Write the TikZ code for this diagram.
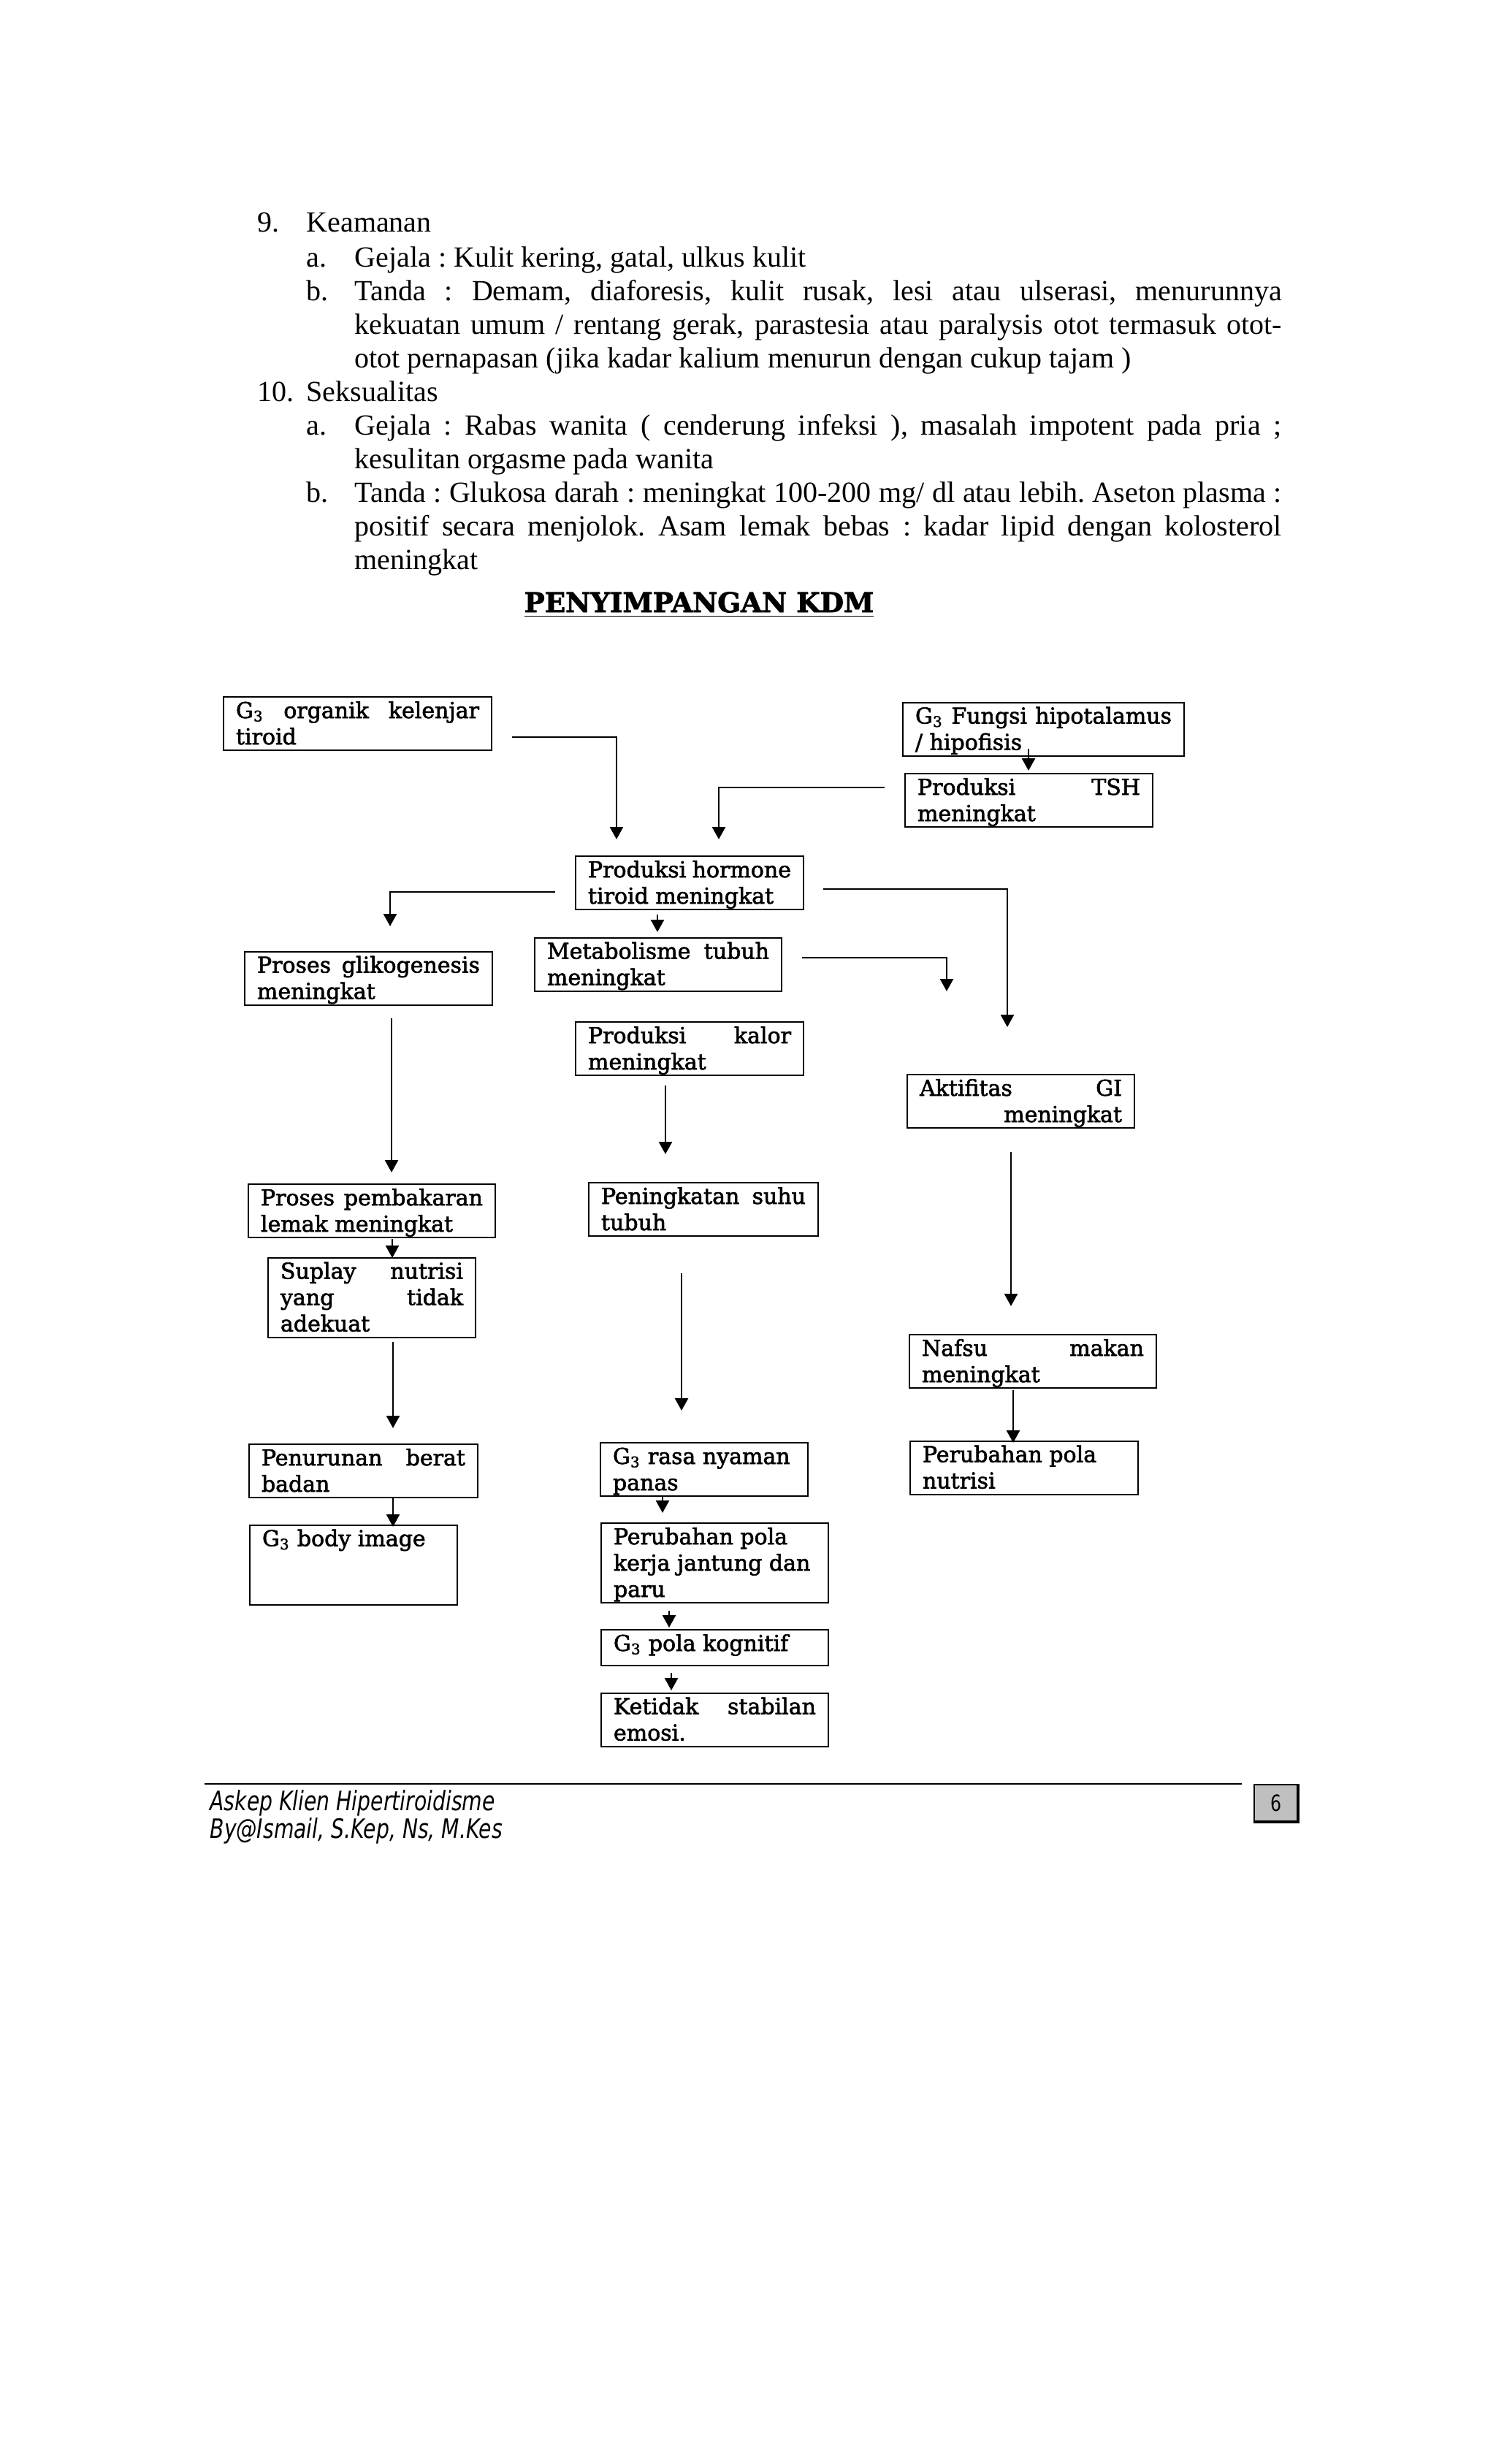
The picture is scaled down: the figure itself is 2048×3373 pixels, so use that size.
\documentclass[tikz,border=0pt]{standalone}
\usepackage{fontspec}
\setmainfont{Liberation Serif}
\newfontfamily\kotakfont[FakeBold=2]{DejaVu Serif}
\newfontfamily\kakifont[FakeStretch=0.77]{DejaVu Sans}
\usetikzlibrary{arrows.meta,positioning}
\frenchspacing
\newcommand\fullline[1]{\leavevmode\hbox to\hsize{\spaceskip=0pt\xspaceskip=0pt #1}}
\tikzstyle{teks} = [inner sep=0pt, anchor=base west, align=left, font=\fontsize{12}{13.86}\selectfont, execute at begin node={\spaceskip=0pt\xspaceskip=0pt}]
\tikzstyle{kotak} = [rectangle, draw, line width=0.6pt, inner xsep=5.1pt, inner ysep=0pt, align=left, text height=8.7pt, text depth=13.2pt, font=\kotakfont\fontsize{9}{10.8}\selectfont, execute at begin node={\spaceskip=0pt\xspaceskip=0pt}]
\tikzstyle{tiga} = [text depth=24pt]
\tikzstyle{line} = [draw, line width=0.8pt, -{Triangle[length=5.1pt,width=5.4pt]}]
\tikzstyle{kaki} = [inner sep=0pt, anchor=base west, font=\kakifont\itshape\fontsize{11}{11.4}\selectfont]

\begin{document}
\begin{tikzpicture}[x=0.3pt, y=-0.3pt]
		\useasboundingbox (0,0) rectangle (2048,3373);
		
		% Teks atas
		\node[teks] (No9) at (352,317.5) {9.};
		\node[teks] (Keamanan) at (419,317.5) {Keamanan};
		\node[teks] (Poin9a) at (419,365) {a.};
		\node[teks] (Gejala9) at (485,365) {Gejala : Kulit kering, gatal, ulkus kulit};
		\node[teks] (Poin9b) at (419,411) {b.};
		\node[teks, text width=380.7pt] (Tanda9) at (485,411) {\fullline{Tanda : Demam, diaforesis, kulit rusak, lesi atau ulserasi, menurunnya}\\ \fullline{kekuatan umum / rentang gerak, parastesia atau paralysis otot termasuk otot-}\\ otot pernapasan (jika kadar kalium menurun dengan cukup tajam )};
		\node[teks] (No10) at (352,549) {10.};
		\node[teks] (Seksualitas) at (419,549) {Seksualitas};
		\node[teks] (Poin10a) at (419,595) {a.};
		\node[teks, text width=380.7pt] (Gejala10) at (485,595) {\fullline{Gejala : Rabas wanita ( cenderung infeksi ), masalah impotent pada pria ;}\\ kesulitan orgasme pada wanita};
		\node[teks] (Poin10b) at (419,687.5) {b.};
		\node[teks, text width=380.7pt] (Tanda10) at (485,687.5) {\fullline{Tanda : Glukosa darah : meningkat 100-200 mg/ dl atau lebih. Aseton plasma :}\\ \fullline{positif secara menjolok. Asam lemak bebas : kadar lipid dengan kolosterol}\\ meningkat};
		\node[inner sep=0pt, anchor=base, font=\kotakfont\bfseries\fontsize{11.2}{13}\selectfont] (Judul) at (957,838) {\underline{PENYIMPANGAN KDM}};
		
		% Baris 1
		\node[kotak, text width=99.9pt] (OrganikTiroid) at (489.5,990.5) {\fullline{G\textsubscript{3} organik kelenjar}\\tiroid};
		\node[kotak, text width=105.3pt] (FungsiHipotalamus) at (1428.5,998) {\fullline{G\textsubscript{3} Fungsi hipotalamus}\\/ hipofisis};
		\node[kotak, text width=91.5pt] (ProduksiTSH) at (1408.5,1095.5) {\fullline{Produksi TSH}\\meningkat};
		\node[kotak, text width=83.4pt] (HormonTiroid) at (944,1208.5) {\fullline{Produksi hormone}\\tiroid meningkat};
		
		% Baris 2
		\node[kotak, text width=91.2pt] (Metabolisme) at (901,1320) {\fullline{Metabolisme tubuh}\\meningkat};
		\node[kotak, text width=91.5pt] (Glikogenesis) at (504.5,1339) {\fullline{Proses glikogenesis}\\meningkat};
		\node[kotak, text width=83.4pt, below of=HormonTiroid, node distance=68.1pt] (ProduksiKalor) {\fullline{Produksi kalor}\\meningkat};
		\node[kotak, text width=83.1pt] (AktifitasGI) at (1397.5,1507.5) {\fullline{Aktifitas GI}\\\fullline{\hfill meningkat}};
		
		% Baris 3
		\node[kotak, text width=91.2pt] (PembakaranLemak) at (509,1657.5) {\fullline{Proses pembakaran}\\lemak meningkat};
		\node[kotak, text width=84pt] (SuhuTubuh) at (963,1655.5) {\fullline{Peningkatan suhu}\\tubuh};
		\node[kotak, tiga, text width=75pt, below of=PembakaranLemak, node distance=35.55pt] (SuplayNutrisi) {\fullline{Suplay nutrisi}\\\fullline{yang tidak}\\adekuat};
		\node[kotak, text width=91.2pt] (NafsuMakan) at (1414,1863.5) {\fullline{Nafsu makan}\\meningkat};
		
		% Baris 4
		\node[kotak, text width=83.4pt] (PolaNutrisi) at (1402,2009) {Perubahan pola\\nutrisi};
		\node[kotak, text width=83.7pt] (BeratBadan) at (497.5,2013.5) {\fullline{Penurunan berat}\\badan};
		\node[kotak, tiga, text width=75pt] (BodyImage) at (484,2142) {G\textsubscript{3} body image};
		\node[kotak, text width=75pt] (RasaNyaman) at (964,2011.5) {G\textsubscript{3} rasa nyaman\\panas};
		\node[kotak, tiga, text width=83.1pt] (KerjaJantung) at (978.5,2139.5) {Perubahan pola\\kerja jantung dan\\paru};
		\node[kotak, text depth=6pt, text width=83.1pt, below of=KerjaJantung, node distance=34.8pt] (PolaKognitif) {G\textsubscript{3} pola kognitif};
		\node[kotak, text width=83.1pt, below of=PolaKognitif, node distance=29.55pt] (Emosi) {\fullline{Ketidak stabilan}\\emosi.};
		
		% Ujung panah
		\coordinate (OrganikKeluar) at (701,1009);
		\coordinate (HormonMasukKiri) at (844,1149);
		\coordinate (TSHKeluar) at (1211,1078);
		\coordinate (HormonMasukKanan) at (984,1149);
		\coordinate (HipofisisKeluar) at (1408,1025);
		\coordinate (TSHMasuk) at (1408,1055);
		\coordinate (HormonKeluarKiri) at (760,1221);
		\coordinate (GlikogenesisMasuk) at (534,1268);
		\coordinate (HormonKeluarBawah) at (900,1252);
		\coordinate (MetabolismeMasuk) at (900,1276);
		\coordinate (HormonKeluarKanan) at (1127,1217);
		\coordinate (AktifitasMasuk) at (1379,1406);
		\coordinate (MetabolismeKeluar) at (1098,1311);
		\coordinate (MetabolismeUjung) at (1296,1357);
		\coordinate (GlikogenesisKeluar) at (536,1394);
		\coordinate (LemakMasuk) at (536,1605);
		\coordinate (KalorKeluar) at (911,1486);
		\coordinate (SuhuMasuk) at (911,1580);
		\coordinate (AktifitasKeluar) at (1384,1577);
		\coordinate (NafsuMasuk) at (1384,1788);
		\coordinate (LemakKeluar) at (537,1696);
		\coordinate (SuplayMasuk) at (537,1722);
		\coordinate (SuplayKeluar) at (538,1837);
		\coordinate (BeratMasuk) at (538,1955);
		\coordinate (SuhuKeluar) at (933,1743);
		\coordinate (NyamanMasuk) at (933,1931);
		\coordinate (NafsuKeluar) at (1387,1903);
		\coordinate (NutrisiMasuk) at (1387,1975);
		\coordinate (BeratKeluar) at (538,2050);
		\coordinate (BodyMasuk) at (538,2090);
		\coordinate (NyamanKeluar) at (907,2048);
		\coordinate (JantungMasuk) at (907,2071);
		\coordinate (JantungKeluar) at (916,2205);
		\coordinate (KognitifMasuk) at (916,2228);
		\coordinate (KognitifKeluar) at (919,2290);
		\coordinate (EmosiMasuk) at (919,2314);
		
		% Paths
		\path [line] (OrganikKeluar) -| (HormonMasukKiri);
		\path [line] (TSHKeluar) -| (HormonMasukKanan);
		\path [line] (HipofisisKeluar) -- (TSHMasuk);
		\path [line] (HormonKeluarKiri) -| (GlikogenesisMasuk);
		\path [line] (HormonKeluarBawah) -- (MetabolismeMasuk);
		\path [line] (HormonKeluarKanan) -| (AktifitasMasuk);
		\path [line] (MetabolismeKeluar) -| (MetabolismeUjung);
		\path [line] (GlikogenesisKeluar) -- (LemakMasuk);
		\path [line] (KalorKeluar) -- (SuhuMasuk);
		\path [line] (AktifitasKeluar) -- (NafsuMasuk);
		\path [line] (LemakKeluar) -- (SuplayMasuk);
		\path [line] (SuplayKeluar) -- (BeratMasuk);
		\path [line] (SuhuKeluar) -- (NyamanMasuk);
		\path [line] (NafsuKeluar) -- (NutrisiMasuk);
		\path [line] (BeratKeluar) -- (BodyMasuk);
		\path [line] (NyamanKeluar) -- (JantungMasuk);
		\path [line] (JantungKeluar) -- (KognitifMasuk);
		\path [line] (KognitifKeluar) -- (EmosiMasuk);
		
		% Kaki halaman
		\draw[line width=0.7pt] (280,2442) -- (1700,2442);
		\node[kaki] (JudulKaki) at (287,2478) {Askep Klien Hipertiroidisme};
		\node[kaki] (Penulis) at (287,2516) {By@Ismail, S.Kep, Ns, M.Kes};
		\node[draw, fill=black!25, line width=0.5pt, minimum width=17.7pt, minimum height=15pt, inner sep=0pt, font=\kakifont\fontsize{9.2}{10}\selectfont] (Halaman) at (1746.5,2468) {6};
		\draw[line width=1.2pt] (Halaman.north east) -- (Halaman.south east) -- (Halaman.south west);
		
	\end{tikzpicture}
\end{document}
